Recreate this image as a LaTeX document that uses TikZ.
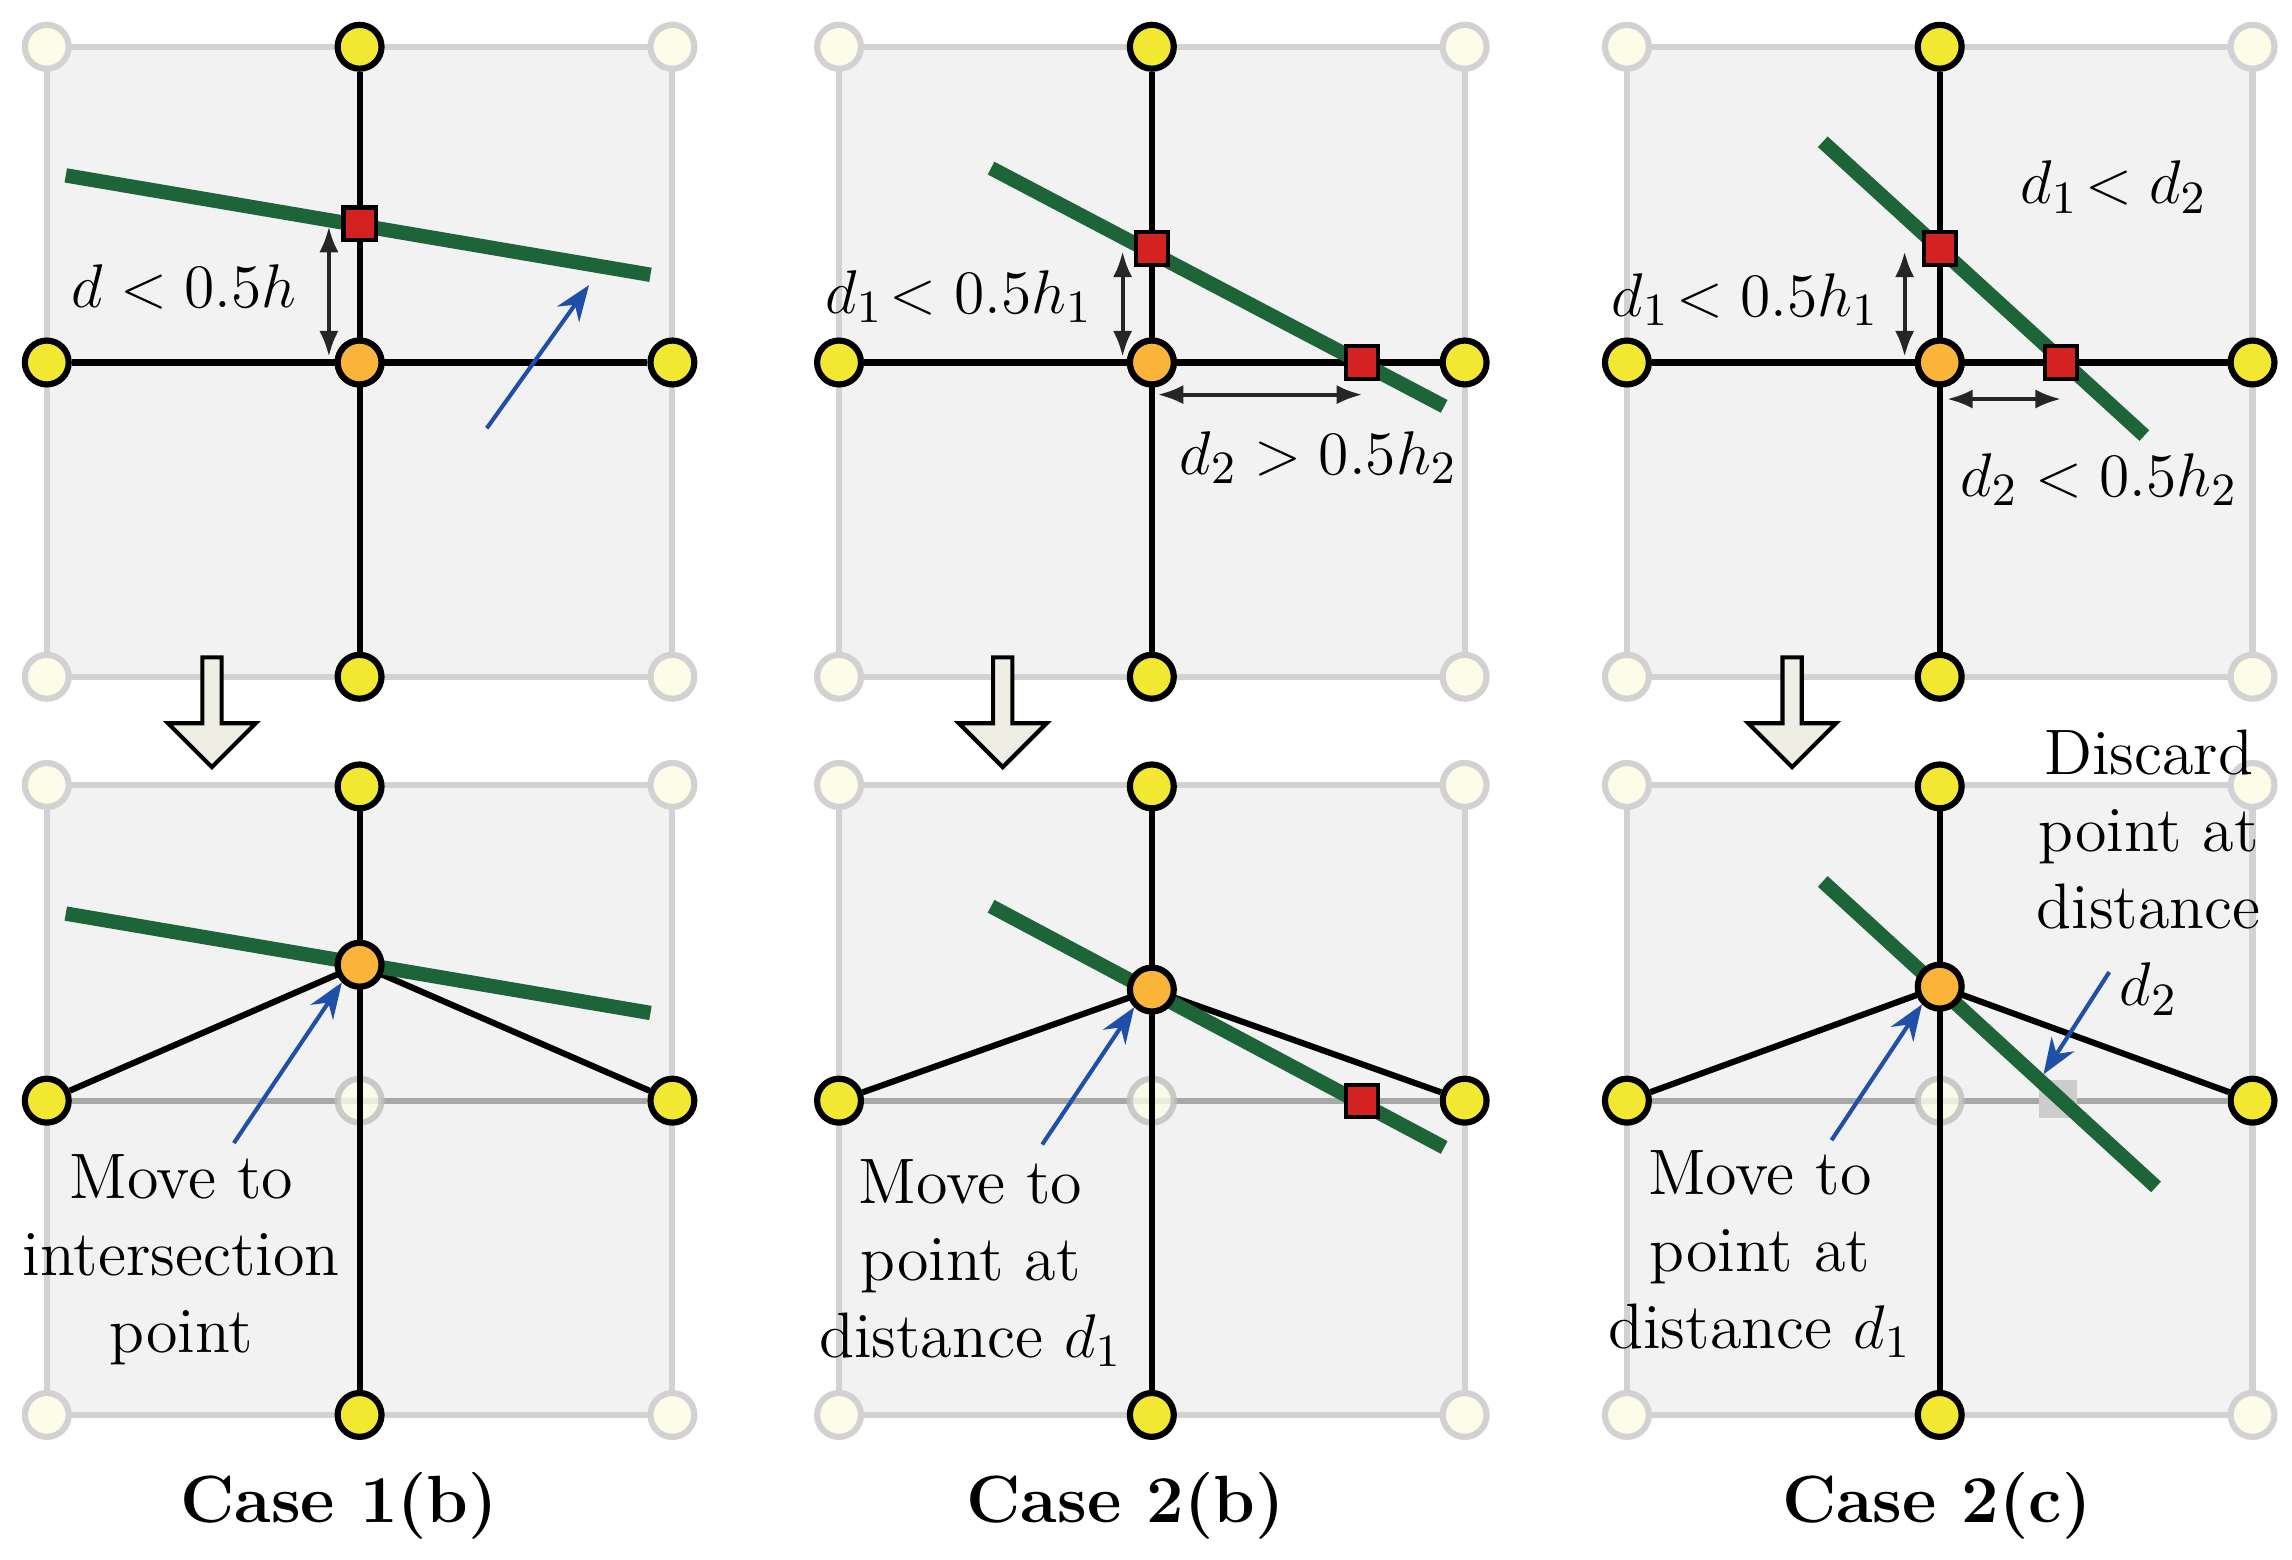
\documentclass[tikz,border=0pt]{standalone}
\usetikzlibrary{arrows.meta,shapes.arrows}
\definecolor{panelfill}{HTML}{F2F2F2}
\definecolor{panelline}{HTML}{D2D2D2}
\definecolor{cornerfill}{HTML}{FCFCE8}
\definecolor{yel}{HTML}{F2E832}
\definecolor{org}{HTML}{FBB43A}
\definecolor{redsq}{HTML}{D42222}
\definecolor{grn}{HTML}{1D6438}
\definecolor{blu}{HTML}{1F4FA8}
\definecolor{arrfill}{HTML}{EEEEE4}
\tikzset{
 x=0.01cm,y=-0.01cm,
 every node/.style={font=\fontsize{12.5}{15}\selectfont},
 panel/.style={draw=panelline,line width=1.2pt,fill=panelfill},
 corner/.style={circle,draw=panelline,fill=cornerfill,line width=1.2pt,minimum size=0.3cm,inner sep=0pt},
 yv/.style={circle,draw=black,fill=yel,line width=1.2pt,minimum size=0.3cm,inner sep=0pt},
 ov/.style={circle,draw=black,fill=org,line width=1.2pt,minimum size=0.3cm,inner sep=0pt},
 ghost/.style={circle,draw=black!25,fill=cornerfill,line width=1.2pt,minimum size=0.3cm,inner sep=0pt,opacity=0.8},
 rsq/.style={rectangle,draw=black,fill=redsq,line width=0.8pt,minimum size=0.22cm,inner sep=0pt},
 edge/.style={line width=1.2pt,black},
 gedge/.style={line width=1.2pt,panelline!80!black},
 gline/.style={line width=2.8pt,grn},
 barrow/.style={-{Stealth[length=7pt]},blu,line width=0.8pt},
 dim/.style={{Latex[length=5pt]}-{Latex[length=5pt]},line width=0.8pt,black!85},
 downarr/.style={single arrow,shape border rotate=270,draw=black,fill=arrfill,line width=0.8pt,minimum width=0.6cm,single arrow head extend=0.05cm,minimum height=0.75cm,inner sep=0pt},
 txt/.style={align=center,inner sep=0pt},
 caselab/.style={font=\fontsize{13}{15}\selectfont\bfseries}
}
\newcommand\pframe[3]{% prefix, cx, cy
 \draw[panel] (#2-214,#3-216) rectangle (#2+214,#3+215);
 \node[corner] (#1c1) at (#2-214,#3-216) {};
 \node[corner] (#1c2) at (#2+214,#3-216) {};
 \node[corner] (#1c3) at (#2-214,#3+215) {};
 \node[corner] (#1c4) at (#2+214,#3+215) {};
}
\newcommand\topcross[2]{% prefix, cx
 \pframe{#1}{#2}{248}
 \node[yv] (#1t) at (#2,32) {};
 \node[yv] (#1b) at (#2,463) {};
 \node[yv] (#1l) at (#2-214,248) {};
 \node[yv] (#1r) at (#2+214,248) {};
 \draw[edge] (#1t) -- (#1b);
 \draw[edge] (#1l) -- (#1r);
 \node[ov] (#1o) at (#2,248) {};
}
\newcommand\botbase[3]{% prefix, cx, oy
 \pframe{#1}{#2}{753}
 \node[yv] (#1t) at (#2,538) {};
 \node[yv] (#1b) at (#2,968) {};
 \node[yv] (#1l) at (#2-214,753) {};
 \node[yv] (#1r) at (#2+214,753) {};
 \draw[gedge] (#1l) -- (#1r);
 \node[ghost] (#1g) at (#2,753) {};
 \coordinate (#1oc) at (#2,#3);
 \draw[edge] (#1t) -- (#1b);
 \draw[edge] (#1l) -- (#1oc) -- (#1r);
}
\begin{document}
\begin{tikzpicture}
\useasboundingbox (0,0) rectangle (1568,1067);
% ---------- Case 1(b)
\topcross{A}{246}
\coordinate (Ag1) at (45,120); \coordinate (Ag2) at (445,188);
\draw[gline] (Ag1) -- (Ag2);
\node[ov] at (Ao) {};
\node[rsq] (Ar) at (246,153) {};
\coordinate (Ad1) at (225,155); \coordinate (Ad2) at (225,244);
\draw[dim] (Ad1) -- (Ad2);
\node[txt] (Alab) at (126,196) {$d<0.5h$};
\coordinate (Aa1) at (333,293); \coordinate (Aa2) at (403,195);
\draw[barrow] (Aa1) -- (Aa2);
\node[downarr] (Adn) at (145,484) {};
\botbase{B}{246}{660}
\coordinate (Bg1) at (45,625); \coordinate (Bg2) at (445,693);
\draw[gline] (Bg1) -- (Bg2);
\node[ov] (Bo) at (Boc) {};
\coordinate (Ba1) at (160,782);
\draw[barrow] (Ba1) -- (Bo.south west);
\node[txt] (Btxt) at (124,862) {Move to\\intersection\\point};
\node[caselab] (Bcap) at (232,1030) {Case 1(b)};
% ---------- Case 2(b)
\topcross{C}{788}
\coordinate (Cg1) at (678,115); \coordinate (Cg2) at (988,278);
\draw[gline] (Cg1) -- (Cg2);
\node[ov] at (Co) {};
\node[rsq] (Cr1) at (788,170) {};
\node[rsq] (Cr2) at (932,248) {};
\coordinate (Cd1) at (768,172); \coordinate (Cd2) at (768,244);
\draw[dim] (Cd1) -- (Cd2);
\node[txt] (Clab1) at (656,203) {$d_1\!<0.5h_1$};
\coordinate (Ce1) at (792,270); \coordinate (Ce2) at (932,270);
\draw[dim] (Ce1) -- (Ce2);
\node[txt] (Clab2) at (902,313) {$d_2>0.5h_2$};
\node[downarr] (Cdn) at (686,484) {};
\botbase{D}{788}{677}
\coordinate (Dg1) at (678,620); \coordinate (Dg2) at (988,785);
\draw[gline] (Dg1) -- (Dg2);
\node[ov] (Do) at (Doc) {};
\node[rsq] (Dr) at (932,753) {};
\coordinate (Da1) at (713,783);
\draw[barrow] (Da1) -- (Do.south west);
\node[txt] (Dtxt) at (664,864) {Move to\\point at\\distance $d_1$};
\node[caselab] (Dcap) at (770,1030) {Case 2(b)};
% ---------- Case 2(c)
\topcross{E}{1327}
\coordinate (Eg1) at (1247,97); \coordinate (Eg2) at (1467,298);
\draw[gline] (Eg1) -- (Eg2);
\node[ov] at (Eo) {};
\node[rsq] (Er1) at (1327,170) {};
\node[rsq] (Er2) at (1410,248) {};
\coordinate (Ed1) at (1303,172); \coordinate (Ed2) at (1303,244);
\draw[dim] (Ed1) -- (Ed2);
\node[txt] (Elab1) at (1194,205) {$d_1\!<0.5h_1$};
\coordinate (Ee1) at (1332,273); \coordinate (Ee2) at (1410,273);
\draw[dim] (Ee1) -- (Ee2);
\node[txt] (Elab2) at (1436,328) {$d_2<0.5h_2$};
\node[txt] (Elab3) at (1446,128) {$d_1\!<d_2$};
\node[downarr] (Edn) at (1226,484) {};
\botbase{F}{1327}{675}
\node[rectangle,fill=black!20,minimum size=0.26cm,inner sep=0pt] (Fx) at (1408,752) {};
\coordinate (Fg1) at (1247,603); \coordinate (Fg2) at (1475,812);
\draw[gline] (Fg1) -- (Fg2);
\node[ov] (Fo) at (Foc) {};
\coordinate (Fa1) at (1253,780);
\draw[barrow] (Fa1) -- (Fo.south west);
\node[txt] (Ftxt) at (1204,858) {Move to\\point at\\distance $d_1$};
\node[txt] (Fdis) at (1470,597) {Discard\\point at\\distance\\$d_2$};
\coordinate (Fb1) at (1443,665); \coordinate (Fb2) at (1398,735);
\draw[barrow] (Fb1) -- (Fb2);
\node[caselab] (Fcap) at (1325,1030) {Case 2(c)};
\end{tikzpicture}
\end{document}
